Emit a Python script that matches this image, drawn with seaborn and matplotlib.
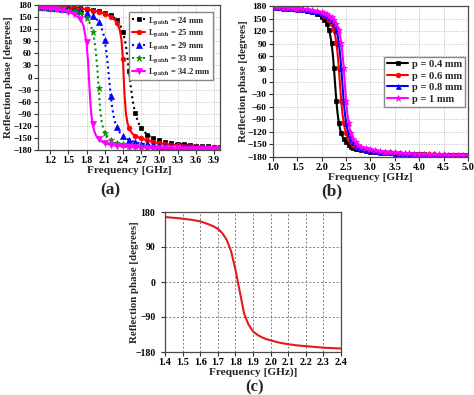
import matplotlib
matplotlib.use("Agg")
import matplotlib.pyplot as plt
from matplotlib.ticker import MultipleLocator
import seaborn as sns

# ---------------- data ----------------
# Panel (a): reflection phase vs frequency for several patch lengths
F_A = [1.0, 1.1, 1.2, 1.3, 1.4, 1.5, 1.6, 1.7,
       1.75, 1.8, 1.825, 1.85, 1.875, 1.9, 1.925, 1.95, 1.975,
       2.0, 2.025, 2.05, 2.075, 2.1, 2.125, 2.15, 2.175,
       2.2, 2.225, 2.25, 2.275, 2.3, 2.325, 2.35, 2.375,
       2.4, 2.425, 2.45, 2.475, 2.5, 2.525, 2.55, 2.575, 2.6,
       2.65, 2.7,
       2.8, 2.9, 3.0, 3.1, 3.2, 3.3, 3.4, 3.5, 3.6, 3.7, 3.8, 3.9, 4.0]
L24_A = [177, 177, 176, 175, 175, 174, 173, 172,
         171, 170, 170, 169, 169, 168, 168, 167, 166,
         165, 164, 164, 163, 161, 160, 158, 156,
         154, 152, 149, 146, 142, 137, 131, 123,
         112, 98, 78, 50, 15, -18, -46, -69, -87,
         -111, -126,
         -142, -151, -156, -160, -163, -165, -166, -168, -169, -170, -171, -172, -172]
L25_A = [176, 176, 175, 174, 174, 173, 172, 170,
         170, 169, 168, 168, 167, 166, 166, 165, 164,
         163, 162, 161, 160, 158, 157, 155, 153,
         151, 148, 145, 141, 136, 128, 116, 94,
         45, -40, -90, -113, -125, -133, -138, -142, -145,
         -148, -151,
         -156, -160, -163, -165, -167, -168, -169, -170, -171, -172, -173, -173, -174]
L29_A = [175, 174, 173, 172, 171, 169, 167, 164,
         163, 161, 159, 158, 156, 153, 151, 147, 143,
         138, 131, 122, 110, 92, 67, 33, -8,
         -47, -77, -98, -113, -123, -131, -137, -142,
         -145, -148, -151, -153, -155, -156, -158, -159, -160,
         -162, -164,
         -166, -168, -169, -170, -171, -172, -172, -173, -173, -174, -174, -174, -175]
L33_A = [174, 173, 172, 171, 169, 167, 164, 159,
         154, 147, 142, 136, 127, 114, 96, 68, 28,
         -27, -79, -110, -127, -137, -145, -150, -153,
         -156, -158, -160, -162, -163, -164, -165, -166,
         -166, -167, -168, -168, -169, -169, -170, -170, -170,
         -171, -171,
         -172, -173, -174, -174, -175, -175, -175, -176, -176, -176, -176, -177, -177]
L342_A = [173, 172, 171, 169, 167, 163, 157, 145,
          129, 87, 39, -30, -87, -116, -132, -142, -149,
          -153, -156, -159, -161, -163, -164, -165, -166,
          -167, -168, -168, -169, -170, -170, -170, -171,
          -171, -171, -172, -172, -172, -172, -172, -173, -173,
          -173, -174,
          -174, -175, -175, -176, -176, -176, -177, -177, -177, -177, -177, -178, -178]
LABELS_A = [r"L$_{\mathbf{patch}}$ = 24 mm", r"L$_{\mathbf{patch}}$ = 25 mm",
            r"L$_{\mathbf{patch}}$ = 29 mm", r"L$_{\mathbf{patch}}$ = 33 mm",
            r"L$_{\mathbf{patch}}$ = 34.2 mm"]
XTICKS_A = [1.2, 1.5, 1.8, 2.1, 2.4, 2.7, 3.0, 3.3, 3.6, 3.9]
YTICKS_AB = [-180, -150, -120, -90, -60, -30, 0, 30, 60, 90, 120, 150, 180]

# Panel (b): reflection phase for several gaps p
F_B = [1.0, 1.1, 1.2, 1.3, 1.4, 1.5, 1.6, 1.7, 1.8, 1.9, 2.0, 2.05,
       2.1, 2.125, 2.15, 2.175, 2.2, 2.225, 2.25, 2.275,
       2.3, 2.325, 2.35, 2.375, 2.4, 2.425, 2.45, 2.475,
       2.5, 2.525, 2.55, 2.575, 2.6, 2.625, 2.65, 2.675, 2.7,
       2.75, 2.8, 2.9, 3.0, 3.1, 3.2, 3.3, 3.4, 3.5, 3.6, 3.7, 3.8,
       3.9, 4.0, 4.1, 4.2, 4.3, 4.4, 4.5, 4.6, 4.7, 4.8, 4.9, 5.0]
P04_B = [176, 176, 175, 174, 173, 172, 170, 168, 165, 161, 153, 147,
         138, 131, 122, 110, 92, 67, 33, -8,
         -47, -77, -98, -113, -123, -131, -137, -142,
         -145, -148, -151, -153, -155, -156, -158, -159, -160,
         -162, -163, -165, -167, -168, -169, -170, -171, -172, -172, -173, -173,
         -174, -174, -174, -175, -175, -175, -175, -176, -176, -176, -176, -176]
P06_B = [177, 176, 176, 175, 174, 173, 172, 170, 168, 165, 161, 157,
         153, 150, 147, 143, 138, 131, 122, 110,
         92, 67, 33, -8, -47, -77, -98, -113,
         -123, -131, -137, -142, -145, -148, -151, -153, -155,
         -158, -160, -162, -164, -166, -167, -168, -169, -170, -171, -172, -172,
         -173, -173, -174, -174, -174, -175, -175, -175, -175, -176, -176, -176]
P08_B = [177, 177, 176, 175, 175, 174, 172, 171, 169, 166, 163, 161,
         157, 155, 153, 150, 147, 143, 138, 131,
         122, 110, 92, 67, 33, -8, -47, -77,
         -98, -113, -123, -131, -137, -142, -145, -148, -151,
         -155, -158, -161, -163, -165, -167, -168, -169, -170, -171, -171, -172,
         -172, -173, -173, -174, -174, -174, -175, -175, -175, -175, -176, -176]
P10_B = [177, 177, 176, 176, 175, 174, 173, 172, 170, 168, 165, 163,
         161, 159, 157, 155, 153, 150, 147, 143,
         138, 131, 122, 110, 92, 67, 33, -8,
         -47, -77, -98, -113, -123, -131, -137, -142, -145,
         -151, -155, -159, -162, -164, -166, -167, -168, -169, -170, -171, -171,
         -172, -172, -173, -173, -174, -174, -174, -175, -175, -175, -175, -176]
LABELS_B = ["p = 0.4 mm", "p = 0.6 mm", "p = 0.8 mm", "p = 1 mm"]
XTICKS_B = [1.0, 1.5, 2.0, 2.5, 3.0, 3.5, 4.0, 4.5, 5.0]

# Panel (c): single unit cell response
F_C = [1.4, 1.45, 1.5, 1.55, 1.6, 1.625, 1.65, 1.675, 1.7, 1.725, 1.75, 1.775,
       1.8, 1.825, 1.85, 1.875, 1.9, 1.925, 1.95, 1.975, 2.0, 2.05, 2.1,
       2.15, 2.2, 2.25, 2.3, 2.35, 2.4]
P_C = [167, 165, 163, 160, 156, 152, 148, 143, 137, 126, 109, 80,
       32, -25, -82, -110, -127, -136, -142, -147, -150, -156, -160,
       -163, -165, -167, -169, -170, -171]
XTICKS_C = [1.4, 1.5, 1.6, 1.7, 1.8, 1.9, 2.0, 2.1, 2.2, 2.3, 2.4]
YTICKS_C = [-180, -90, 0, 90, 180]

# ---------------- style ----------------
sns.set_theme(style="white")
plt.rcParams.update({
    "font.family": ["Liberation Serif", "DejaVu Serif"],
    "font.weight": "bold",
    "axes.labelweight": "bold",
    "mathtext.fontset": "stix",
    "axes.edgecolor": "#4a4a4a",
    "axes.linewidth": 0.9,
})

W, H = 474, 395
fig = plt.figure(figsize=(W / 100, H / 100), dpi=100)


def box(l, t, r, b):
    return [l / W, 1 - b / H, (r - l) / W, (b - t) / H]


def style(ax, xlim, xticks, yticks, xminor, yminor, xfs, yfs, ylab_x, xlabel,
          gcolor="#bdbdbd", gls=(0, (1, 1.5)), ypad=1.5):
    ax.set_xlim(*xlim)
    ax.set_ylim(-180, 180)
    ax.set_xticks(xticks)
    ax.set_yticks(yticks)
    ax.xaxis.set_minor_locator(MultipleLocator(xminor))
    ax.yaxis.set_minor_locator(MultipleLocator(yminor))
    ax.grid(True, which="major", color=gcolor, linestyle=gls, linewidth=0.7)
    ax.tick_params(which="major", direction="out", length=3, width=0.8,
                   pad=1.5, colors="#333333", labelcolor="black")
    ax.tick_params(axis="x", labelsize=xfs)
    ax.tick_params(axis="y", labelsize=yfs, pad=ypad)
    ax.tick_params(which="minor", direction="out", length=1.6, width=0.6, colors="#333333")
    ax.tick_params(left=True, bottom=True)
    for lab in ax.get_xticklabels() + ax.get_yticklabels():
        lab.set_fontweight("bold")
    ax.set_xlabel(xlabel, fontsize=8.2, labelpad=0.5)
    ax.set_ylabel("Reflection phase [degrees]", fontsize=7.8)
    ax.yaxis.set_label_coords(ylab_x, 0.5)


def marks(freqs, step):
    return [i for i, f in enumerate(freqs) if abs(f / step - round(f / step)) < 1e-6]


# ---------------- panel (a) ----------------
axA = fig.add_axes(box(38, 5, 220, 150))
series_a = [
    (L24_A, "black", ":", "s", 3.2),
    (L25_A, "#ff0000", "-", "o", 3.4),
    (L29_A, "#0000ff", ":", "^", 3.8),
    (L33_A, "#009000", ":", "*", 4.6),
    (L342_A, "#ff00ff", "-", "v", 3.8),
]
mk_a = marks(F_A, 0.1)
for (vals, col, ls, mk, ms), lab in zip(series_a, LABELS_A):
    sns.lineplot(x=F_A, y=vals, ax=axA, color=col, linestyle=ls, linewidth=1.5,
                 marker=mk, markersize=ms, markevery=mk_a, markeredgecolor=col,
                 markerfacecolor=col, markeredgewidth=0.5, label=lab)
style(axA, (1.0, 4.0), XTICKS_A, YTICKS_AB, 0.15, 15, 7.0, 6.5, -0.135, "Frequency [GHz]")
axA.legend(loc="upper right", bbox_to_anchor=(0.962, 0.95), fontsize=6.1,
           frameon=True, fancybox=False, edgecolor="#888888", framealpha=1,
           handlelength=1.6, handletextpad=0.3, labelspacing=0.12,
           borderpad=0.3, borderaxespad=0.0)

# ---------------- panel (b) ----------------
axB = fig.add_axes(box(273, 6, 468, 157))
series_b = [
    (P04_B, "black", "s", 3.2),
    (P06_B, "#ff0000", "o", 3.4),
    (P08_B, "#0000ff", "^", 3.6),
    (P10_B, "#ff00ff", "*", 4.6),
]
mk_b = marks(F_B, 0.05)
for (vals, col, mk, ms), lab in zip(series_b, LABELS_B):
    sns.lineplot(x=F_B, y=vals, ax=axB, color=col, linestyle="-", linewidth=1.5,
                 marker=mk, markersize=ms, markevery=mk_b, markeredgecolor=col,
                 markerfacecolor=col, markeredgewidth=0.5, label=lab)
style(axB, (1.0, 5.0), XTICKS_B, YTICKS_AB, 0.25, 15, 7.4, 6.8, -0.13, "Frequency [GHz]")
axB.legend(loc="upper right", bbox_to_anchor=(0.985, 0.665), fontsize=7.6,
           frameon=True, fancybox=False, edgecolor="#888888", framealpha=1,
           handlelength=2.0, handletextpad=0.3, labelspacing=0.2,
           borderpad=0.3, borderaxespad=0.0)

# ---------------- panel (c) ----------------
axC = fig.add_axes(box(165, 212, 341, 352))
sns.lineplot(x=F_C, y=P_C, ax=axC, color="#e31a1c", linewidth=1.5)
style(axC, (1.4, 2.4), XTICKS_C, YTICKS_C, 0.05, 45, 7.4, 7.0, -0.145, "Frequency [GHz)]",
      gcolor="#7a7a7a", gls=(0, (2, 2)), ypad=4)
axC.xaxis.labelpad = 0

# panel letters
fig.text(110 / W, 1 - 190 / H, "(a)", ha="center", va="center", fontsize=12.5, fontweight="bold")
fig.text(332 / W, 1 - 191 / H, "(b)", ha="center", va="center", fontsize=12.5, fontweight="bold")
fig.text(255 / W, 1 - 387 / H, "(c)", ha="center", va="center", fontsize=12, fontweight="bold")

fig.savefig("out.png", dpi=100)
